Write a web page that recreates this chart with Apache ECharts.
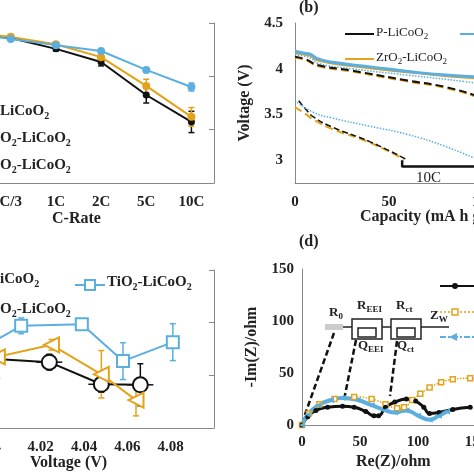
<!DOCTYPE html>
<html>
<head>
<meta charset="UTF-8">
<style>html,body{margin:0;padding:0;background:#fff}#c{width:474px;height:474px}</style>
<script src="https://cdn.jsdelivr.net/npm/echarts@6/dist/echarts.min.js"></script>
</head>
<body>
<div id="c"></div>
<script>
// (a) rate capability
var rateCats = ['C/10', 'C/3', '1C', '2C', '5C', '10C'];
var aBlack = [96, 94.4, 90.3, 85.4, 73, 62.9];
var aOrange = [96.5, 94.8, 92, 87.2, 76.4, 64.8];
var aBlue = [96.2, 94, 91.7, 89.5, 82.4, 76];
var aBlackErr = [0.5, 0.5, 0.8, 1.5, 3, 4];
var aOrangeErr = [0.5, 0.5, 0.6, 1.2, 2.5, 3.5];
var aBlueErr = [0.3, 0.3, 0.4, 0.5, 0.6, 1.5];

// (b) discharge curves: [capacity, voltage]
var bBlue1 = [[0, 4.19], [5, 4.17], [8, 4.16], [12, 4.11], [20, 4.07], [40, 4.02], [60, 3.97], [80, 3.93], [100, 3.91], [150, 3.88]];
var bBlue2 = [[0, 4.15], [8, 4.12], [12, 4.06], [30, 4.0], [60, 3.93], [90, 3.86], [100, 3.83], [130, 3.78]];
var bBlack1 = [[0, 4.13], [6, 4.1], [12, 4.04], [30, 3.98], [60, 3.87], [80, 3.8], [100, 3.68], [110, 3.6]];
var bOrange1 = [[0, 4.12], [6, 4.09], [12, 4.03], [30, 3.97], [60, 3.86], [80, 3.79], [100, 3.67], [110, 3.59]];
var bOrangeTop = [[0, 4.17], [8, 4.14], [12, 4.09], [30, 4.03], [60, 3.96], [100, 3.89], [150, 3.86]];
var bBlack10 = [[2, 3.65], [6, 3.55], [10, 3.47], [20, 3.36], [40, 3.2], [60, 3.0]];
var bOrange10 = [[0, 3.58], [6, 3.5], [10, 3.44], [20, 3.34], [40, 3.19], [58, 3.01]];
var bBlue10 = [[0, 3.65], [10, 3.52], [20, 3.46], [40, 3.37], [60, 3.28], [80, 3.15], [100, 2.98]];
var bBracket = [[57, 3.0], [57, 2.93], [100, 2.93], [100, 3.0]];

// (c) vs voltage: [voltage, value, yErr, xErr]
var cBlue = [[3.99, 1.45, 0.3, 0], [4.011, 1.94, 0.15, 0], [4.039, 1.97, 0.05, 0], [4.058, 1.27, 0.35, 0], [4.081, 1.63, 0.35, 0]];
var cOrange = [[4.0, 1.35, 0.4, 0], [4.025, 1.58, 0.1, 0], [4.048, 1.02, 0.45, 0], [4.064, 0.53, 0.3, 0]];
var cBlack = [[3.99, 1.33, 0.2, 0.006], [4.024, 1.25, 0.15, 0.006], [4.048, 0.83, 0.15, 0.006], [4.066, 0.82, 0.4, 0.006]];

// (d) Nyquist: [Re, -Im]
var dBlack = [[0, 0], [5, 8], [12, 14], [22, 17], [35, 18], [45, 17], [55, 13], [62, 9], [66, 9], [72, 17], [80, 22], [90, 25], [98, 23], [105, 17], [110, 11], [118, 12], [130, 15], [145, 17]];
var dOrange = [[0, 0], [6, 11], [15, 20], [28, 25], [45, 27], [60, 25], [72, 20], [82, 16], [88, 17], [95, 24], [102, 30], [110, 36], [120, 41], [130, 44], [145, 45], [170, 45], [200, 45]];
var dBlue = [[0, 0], [5, 10], [14, 19], [25, 24], [35, 26], [48, 24], [60, 19], [72, 14], [80, 12], [90, 14], [100, 9], [110, 5], [118, 9], [125, 13]];

var serif = 'Liberation Serif';
var tk = {fontFamily: serif, fontWeight: 'bold', fontSize: 15, color: '#222'};
var axName = {fontFamily: serif, fontWeight: 'bold', fontSize: 16, color: '#222'};
var axLine = {show: true, lineStyle: {color: '#888'}};
var BLK = '#111', ORG = '#e3a21a', BLU = '#5aaee0';

function withErr(vals, errs) { return vals.map(function (v, i) { return [i, v, errs[i]]; }); }
function errSeries(data, color, xi, yi) {
  return {
    type: 'custom', xAxisIndex: xi, yAxisIndex: yi, data: data, z: 3,
    renderItem: function (params, api) {
      var x = api.value(0), y = api.value(1), e = api.value(2), ex = api.value(3) || 0;
      var lo = api.coord([x, y - e]), hi = api.coord([x, y + e]);
      var ch = [];
      if (e > 0) {
        ch.push({type: 'line', shape: {x1: lo[0], y1: lo[1], x2: hi[0], y2: hi[1]}, style: {stroke: color, lineWidth: 1.5}});
        ch.push({type: 'line', shape: {x1: lo[0] - 3, y1: lo[1], x2: lo[0] + 3, y2: lo[1]}, style: {stroke: color, lineWidth: 1.5}});
        ch.push({type: 'line', shape: {x1: hi[0] - 3, y1: hi[1], x2: hi[0] + 3, y2: hi[1]}, style: {stroke: color, lineWidth: 1.5}});
      }
      if (ex > 0) {
        var l = api.coord([x - ex, y]), r = api.coord([x + ex, y]);
        ch.push({type: 'line', shape: {x1: l[0], y1: l[1], x2: r[0], y2: r[1]}, style: {stroke: color, lineWidth: 1.5}});
      }
      return {type: 'group', children: ch};
    }
  };
}
var big = {n: {fontFamily: serif, fontWeight: 'bold', fontSize: 15, fill: '#222'}, s: {fontFamily: serif, fontWeight: 'bold', fontSize: 10, fill: '#222', padding: [10, 0, 0, 0]}};
var small = {n: {fontFamily: serif, fontWeight: 'bold', fontSize: 13, fill: '#222'}, s: {fontFamily: serif, fontWeight: 'bold', fontSize: 9, fill: '#222', padding: [8, 0, 0, 0]}};
var leg = {n: {fontFamily: serif, fontSize: 13, fill: '#222'}, s: {fontFamily: serif, fontSize: 9, fill: '#222', padding: [8, 0, 0, 0]}};
function txt(x, y, text, rich) {
  return {type: 'text', left: x, top: y, style: {text: text, rich: rich || big}};
}
function seg(x1, y1, x2, y2, color, dash, w) {
  return {type: 'line', shape: {x1: x1, y1: y1, x2: x2, y2: y2}, style: {stroke: color, lineWidth: w || 2, lineDash: dash || null}};
}
var title = {n: {fontFamily: serif, fontWeight: 'bold', fontSize: 16, fill: '#222'}};
var cy = 327; // circuit wire level

var chart = echarts.init(document.getElementById('c'));
chart.setOption({
  animation: false,
  grid: [
    {left: -57, top: 23, width: 271, height: 160, outerBoundsMode: 'none'},
    {left: 295, top: 23, width: 282, height: 160, outerBoundsMode: 'none'},
    {left: -46, top: 270, width: 260, height: 158, outerBoundsMode: 'none'},
    {left: 302, top: 269, width: 232, height: 156, outerBoundsMode: 'none'}
  ],
  xAxis: [
    {gridIndex: 0, type: 'category', data: rateCats, axisLine: axLine, axisTick: {show: false}, axisLabel: Object.assign({margin: 12}, tk)},
    {gridIndex: 1, type: 'value', min: 0, max: 150, interval: 50, axisLine: axLine, axisTick: {show: false}, splitLine: {show: false}, axisLabel: Object.assign({margin: 12}, tk)},
    {gridIndex: 2, type: 'value', min: 3.98, max: 4.1, interval: 0.02, axisLine: axLine, axisTick: {show: false}, splitLine: {show: false},
      axisLabel: Object.assign({margin: 12, formatter: function (v) { return v >= 4.099 ? '' : (Math.abs(v - 4) < 1e-6 ? '4' : v.toFixed(2)); }}, tk)},
    {gridIndex: 3, type: 'value', min: 0, max: 200, interval: 50, axisLine: axLine, axisTick: {show: false}, splitLine: {show: false}, axisLabel: Object.assign({margin: 10}, tk)}
  ],
  yAxis: [
    {gridIndex: 0, type: 'value', min: 40, max: 100, interval: 20, position: 'right', axisLine: axLine, axisTick: {show: true, inside: true, length: 5, lineStyle: {color: '#888'}}, axisLabel: {show: false}, splitLine: {show: false}},
    {gridIndex: 1, type: 'value', min: 2.75, max: 4.5, interval: 0.25, axisLine: axLine, axisTick: {show: false}, splitLine: {show: false},
      axisLabel: Object.assign({margin: 12, formatter: function (v) { return (Math.abs(v * 2 - Math.round(v * 2)) < 1e-6 && v >= 3) ? String(v) : ''; }}, tk),
      name: 'Voltage (V)', nameLocation: 'middle', nameGap: 38, nameTextStyle: axName},
    {gridIndex: 2, type: 'value', min: 0, max: 3, interval: 1, position: 'right', axisLine: axLine, axisTick: {show: true, inside: true, length: 5, lineStyle: {color: '#888'}}, axisLabel: {show: false}, splitLine: {show: false}},
    {gridIndex: 3, type: 'value', min: 0, max: 150, interval: 50, axisLine: axLine, axisTick: {show: false}, splitLine: {show: false}, axisLabel: Object.assign({margin: 8}, tk),
      name: '-Im(Z)/ohm', nameLocation: 'middle', nameGap: 42, nameTextStyle: axName}
  ],
  series: [
    // (a)
    {type: 'line', xAxisIndex: 0, yAxisIndex: 0, data: aBlack, symbol: 'circle', symbolSize: 7, lineStyle: {color: BLK, width: 2}, itemStyle: {color: BLK}},
    errSeries(withErr(aBlack, aBlackErr), BLK, 0, 0),
    {type: 'line', xAxisIndex: 0, yAxisIndex: 0, data: aOrange, symbol: 'circle', symbolSize: 8, lineStyle: {color: ORG, width: 2}, itemStyle: {color: ORG}},
    errSeries(withErr(aOrange, aOrangeErr), ORG, 0, 0),
    {type: 'line', xAxisIndex: 0, yAxisIndex: 0, data: aBlue, symbol: 'circle', symbolSize: 8, lineStyle: {color: BLU, width: 2}, itemStyle: {color: BLU}},
    errSeries(withErr(aBlue, aBlueErr), BLU, 0, 0),
    // (b)
    {type: 'line', xAxisIndex: 1, yAxisIndex: 1, data: bOrangeTop, symbol: 'none', smooth: true, lineStyle: {color: ORG, width: 2}},
    {type: 'line', xAxisIndex: 1, yAxisIndex: 1, data: bBlue1, symbol: 'none', smooth: true, lineStyle: {color: BLU, width: 3}},
    {type: 'line', xAxisIndex: 1, yAxisIndex: 1, data: bBlue2, symbol: 'none', smooth: true, lineStyle: {color: BLU, width: 1.5, type: 'dotted'}},
    {type: 'line', xAxisIndex: 1, yAxisIndex: 1, data: bOrange1, symbol: 'none', smooth: true, lineStyle: {color: ORG, width: 2, type: 'dashed'}},
    {type: 'line', xAxisIndex: 1, yAxisIndex: 1, data: bBlack1, symbol: 'none', smooth: true, lineStyle: {color: BLK, width: 2, type: 'dashed'}},
    {type: 'line', xAxisIndex: 1, yAxisIndex: 1, data: bOrange10, symbol: 'none', smooth: true, lineStyle: {color: ORG, width: 2, type: 'dashed'}},
    {type: 'line', xAxisIndex: 1, yAxisIndex: 1, data: bBlack10, symbol: 'none', smooth: true, lineStyle: {color: BLK, width: 1.5, type: 'dashed'}},
    {type: 'line', xAxisIndex: 1, yAxisIndex: 1, data: bBlue10, symbol: 'none', smooth: true, lineStyle: {color: BLU, width: 1.5, type: 'dotted'}},
    {type: 'line', xAxisIndex: 1, yAxisIndex: 1, data: bBracket, symbol: 'none', lineStyle: {color: BLK, width: 2.5}},
    // (c)
    {type: 'line', xAxisIndex: 2, yAxisIndex: 2, data: cBlack, symbol: 'circle', symbolSize: 15, lineStyle: {color: BLK, width: 2}, itemStyle: {color: '#fff', borderColor: BLK, borderWidth: 2}, z: 4},
    errSeries(cBlack, BLK, 2, 2),
    {type: 'line', xAxisIndex: 2, yAxisIndex: 2, data: cOrange, symbol: 'triangle', symbolRotate: 90, symbolSize: 15, lineStyle: {color: ORG, width: 2}, itemStyle: {color: '#fff', borderColor: ORG, borderWidth: 2}, z: 4},
    errSeries(cOrange, ORG, 2, 2),
    {type: 'line', xAxisIndex: 2, yAxisIndex: 2, data: cBlue, symbol: 'rect', symbolSize: 12, lineStyle: {color: BLU, width: 2}, itemStyle: {color: '#fff', borderColor: BLU, borderWidth: 2}, z: 4},
    errSeries(cBlue, BLU, 2, 2),
    // (d)
    {type: 'line', xAxisIndex: 3, yAxisIndex: 3, data: dOrange, smooth: true, symbol: 'rect', symbolSize: 5, lineStyle: {color: ORG, width: 1.5, type: 'dotted'}, itemStyle: {color: '#fff', borderColor: ORG, borderWidth: 1.5}},
    {type: 'line', xAxisIndex: 3, yAxisIndex: 3, data: dBlack, smooth: true, symbol: 'circle', symbolSize: 5, lineStyle: {color: BLK, width: 3}, itemStyle: {color: BLK}},
    {type: 'line', xAxisIndex: 3, yAxisIndex: 3, data: dBlue, smooth: true, symbol: 'triangle', symbolRotate: 90, symbolSize: 6, lineStyle: {color: BLU, width: 4}, itemStyle: {color: BLU}}
  ],
  graphic: [
    txt(299, 0, '{n|(b)}', title),
    txt(299, 234, '{n|(d)}', title),
    // axis names
    txt(52, 211, '{n|C-Rate}', title),
    txt(360, 209, '{n|Capacity (mA h g}', title),
    txt(30, 455, '{n|Voltage (V)}', title),
    txt(356, 454, '{n|Re(Z)/ohm}', title),
    // (a) legend fragment
    txt(0, 104, '{n|LiCoO}{s|2}'),
    txt(0, 131, '{n|O}{s|2}{n|-LiCoO}{s|2}'),
    txt(0, 158, '{n|O}{s|2}{n|-LiCoO}{s|2}'),
    // (b) legend
    seg(345, 34, 374, 34, BLK), txt(376, 26, '{n|P-LiCoO}{s|2}', leg),
    seg(345, 59, 374, 59, ORG), txt(376, 51, '{n|ZrO}{s|2}{n|-LiCoO}{s|2}', leg),
    seg(460, 34, 476, 34, BLU),
    {type: 'text', left: 416, top: 171, style: {text: '10C', font: '15px "Liberation Serif"', fill: '#222'}},
    // (c) legend
    txt(0, 272, '{n|iCoO}{s|2}'),
    seg(75, 285, 105, 285, BLU), {type: 'rect', shape: {x: 85, y: 280, width: 10, height: 10}, style: {fill: '#fff', stroke: BLU, lineWidth: 2}},
    txt(107, 275, '{n|TiO}{s|2}{n|-LiCoO}{s|2}'),
    txt(0, 302, '{n|O}{s|2}{n|-LiCoO}{s|2}'),
    // (d) legend
    seg(440, 286, 476, 286, BLK, null, 2), {type: 'circle', shape: {cx: 455, cy: 286, r: 3}, style: {fill: BLK}},
    seg(440, 312, 476, 312, ORG, [2, 2], 1.5), {type: 'rect', shape: {x: 452, y: 309, width: 6, height: 6}, style: {fill: '#fff', stroke: ORG, lineWidth: 1.5}},
    seg(440, 337, 476, 337, BLU, [6, 2, 2, 2], 2), {type: 'polygon', shape: {points: [[449, 337], [457, 333], [457, 341]]}, style: {fill: BLU}},
    // (d) equivalent circuit
    seg(325, cy, 352, cy, '#222', null, 1.5),
    {type: 'rect', shape: {x: 325, y: cy - 3, width: 18, height: 6}, style: {fill: '#ccc'}},
    {type: 'rect', shape: {x: 352, y: cy - 8, width: 30, height: 20}, style: {fill: 'none', stroke: '#222', lineWidth: 1.5}},
    {type: 'rect', shape: {x: 358, y: cy + 1, width: 18, height: 9}, style: {fill: '#fff', stroke: '#222', lineWidth: 1.5}},
    seg(382, cy, 391, cy, '#222', null, 1.5),
    {type: 'rect', shape: {x: 391, y: cy - 8, width: 30, height: 20}, style: {fill: 'none', stroke: '#222', lineWidth: 1.5}},
    {type: 'rect', shape: {x: 397, y: cy + 1, width: 18, height: 9}, style: {fill: '#fff', stroke: '#222', lineWidth: 1.5}},
    seg(421, cy, 449, cy, '#222', null, 1.5),
    txt(329, 306, '{n|R}{s|0}', small),
    txt(357, 299, '{n|R}{s|EEI}', small),
    txt(396, 299, '{n|R}{s|ct}', small),
    txt(430, 309, '{n|Z}{s|W}', small),
    txt(358, 339, '{n|Q}{s|EEI}', small),
    txt(397, 339, '{n|Q}{s|ct}', small),
    seg(334, 333, 303, 420, '#111', [6, 3], 2.5),
    seg(356, 340, 344, 400, '#111', [6, 3], 2.5),
    seg(397, 341, 390, 396, '#111', [6, 3], 2.5)
  ]
});
</script>
</body>
</html>
